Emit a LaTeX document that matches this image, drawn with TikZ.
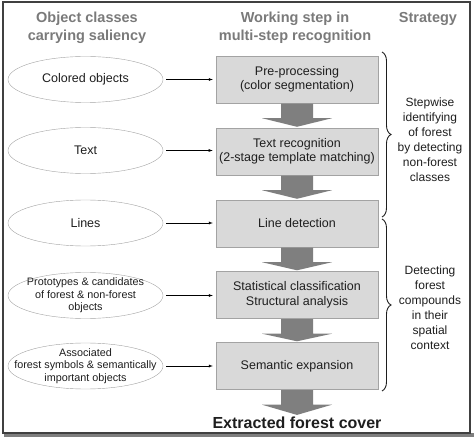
\documentclass[tikz,border=0pt]{standalone}
\usepackage{fontspec}
\setmainfont{Liberation Sans}
\usetikzlibrary{shapes.geometric,calc,decorations.pathreplacing}

\definecolor{boxgray}{HTML}{D9D9D9}
\definecolor{edgegray}{HTML}{A3A3A3}
\definecolor{fatgray}{HTML}{7F7F7F}
\definecolor{headgray}{HTML}{7A7A7A}
\definecolor{inkgray}{HTML}{1E1E1E}

\begin{document}
\begin{tikzpicture}[x=1pt, y=-1pt,
    workbox/.style={draw=edgegray, fill=boxgray, minimum width=162pt, minimum height=47pt,
        align=center, text=inkgray, font=\fontsize{12.5}{14.5}\selectfont},
    classoval/.style={ellipse, draw=edgegray, fill=white, minimum width=155pt, minimum height=46pt,
        inner sep=0pt, align=center, text=inkgray, font=\fontsize{12.5}{12.5}\selectfont},
    smalloval/.style={classoval, inner xsep=-17pt, inner ysep=-3pt, font=\fontsize{10.8}{12.5}\selectfont},
    header/.style={align=center, text=headgray, font=\bfseries\fontsize{14.5}{18}\selectfont},
    strategy/.style={align=center, text=inkgray, font=\fontsize{12}{15}\selectfont},
    strategybrace/.style={decorate, decoration={brace, amplitude=9pt}, line width=0.9pt, inkgray}]

    % Frame
    \useasboundingbox (0,0) rectangle (474,438);
    \fill[fatgray] (4,433) rectangle (474,437);
    \draw[line width=1.2pt, black!75] (3,2) rectangle (470,433);

    % Headers
    \node[header] (hclass) at (87,28) {Object classes\\carrying saliency};
    \node[header] (hstep) at (295,28) {Working step in\\multi-step recognition};
    \node[header] (hstrat) at (428,19) {Strategy};

    % Working steps
    \node[workbox] (pre) at (297,79.5) {Pre-processing\\(color segmentation)};
    \node[workbox] (txt) at (297,151.5) {Text recognition\\(2-stage template matching)};
    \node[workbox] (lin) at (297,223.5) {Line detection};
    \node[workbox] (sta) at (297,295) {Statistical classification\\Structural analysis};
    \node[workbox] (sem) at (297,366) {Semantic expansion};
    \node[inner sep=1pt, text=inkgray, font=\bfseries\fontsize{16}{18}\selectfont] (out) at (297,423) {Extracted forest cover};

    % Object classes
    \node[classoval] (colored) at (85.5,79.5) {Colored objects};
    \node[classoval] (text) at (85.5,150.5) {Text};
    \node[classoval] (lines) at (85.5,223) {Lines};
    \node[smalloval] (proto) at (85.5,295.5) {Prototypes \& candidates\\of forest \& non-forest\\objects};
    \node[smalloval] (assoc) at (85.5,366) {Associated\\forest symbols \& semantically\\important objects};

    % Small arrows
    \foreach \a/\b in {colored/pre, text/txt, lines/lin, proto/sta, assoc/sem}
        \draw[-latex, thin, shorten <=3pt, shorten >=3pt] (\a.east) -- (\a.east -| \b.west);

    % Fat arrows
    \foreach \a/\b in {pre/txt, txt/lin, lin/sta, sta/sem, sem/out}
        \fill[fatgray] ($(\a.south)+(-16,0.5)$) -- ($(\a.south)+(-16,15)$) -- ($(\a.south)+(-35,15)$)
            -- ($(\b.north)+(0,-1)$) -- ($(\a.south)+(35,15)$) -- ($(\a.south)+(16,15)$)
            -- ($(\a.south)+(16,0.5)$) -- cycle;

    % Braces
    \begin{scope}[y=1pt]
        \draw[strategybrace] (382,-52) -- (382,-217);
        \draw[strategybrace] (382,-219) -- (382,-391);
    \end{scope}

    % Strategy
    \node[strategy] (s1) at (430,139.5) {Stepwise\\identifying\\of forest\\by detecting\\non-forest\\classes};
    \node[strategy] (s2) at (430,307.5) {Detecting\\forest\\compounds\\in their\\spatial\\context};
\end{tikzpicture}
\end{document}
